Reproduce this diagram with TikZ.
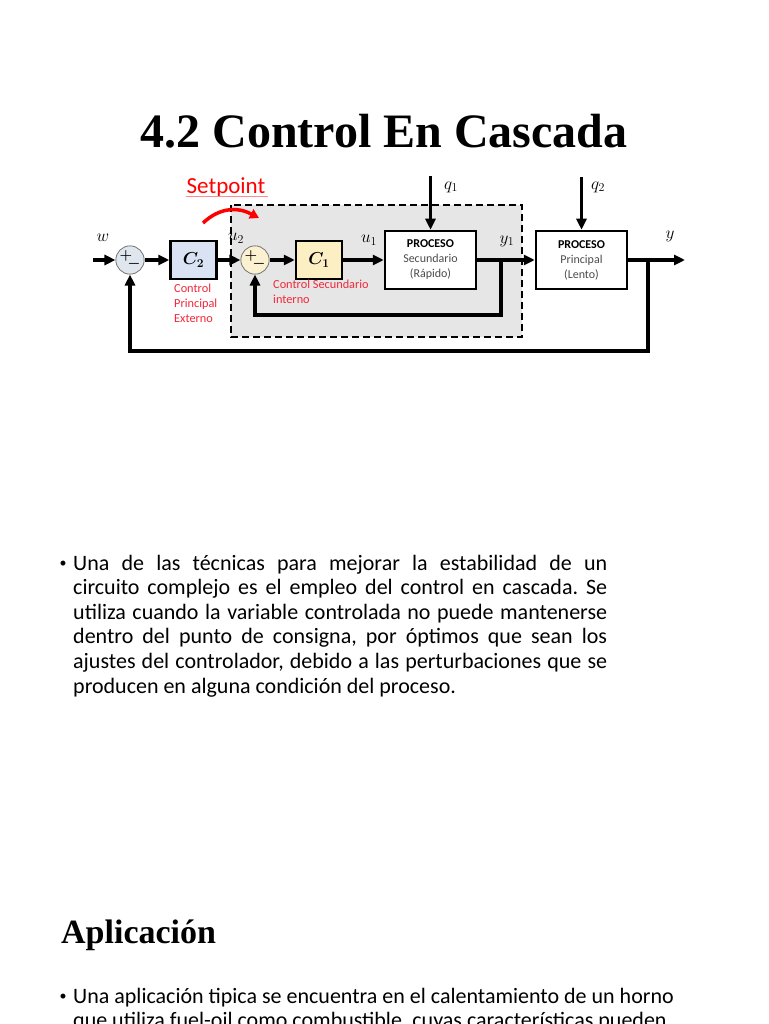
\documentclass[tikz,border=0pt]{standalone}
\usepackage{fontspec}
\setmainfont{Liberation Serif}
\newfontfamily\calibri{Carlito}
\usepackage{xcolor}
\usepackage{tikz}
\usetikzlibrary{shapes,arrows.meta}
\frenchspacing

\definecolor{loopgray}{HTML}{E6E6E6}
\definecolor{cblue}{HTML}{DAE3F3}
\definecolor{sblue}{HTML}{DFE6EE}
\definecolor{cyellow}{HTML}{FCEFC4}
\definecolor{syellow}{HTML}{FBF0CF}
\definecolor{notered}{HTML}{F2283A}

\newcommand{\plusminus}{$+$\kern-4.5pt\raisebox{-8pt}{$-$}}

\begin{document}
\begin{tikzpicture}[
    x=1pt, y=-1pt,
    conn/.style={line width=3.5pt, -{Triangle[length=11pt,width=10pt]}},
    block/.style={rectangle, draw, line width=2.5pt, minimum width=46pt, minimum height=38pt, inner sep=0pt, font=\fontsize{17}{17}\selectfont\boldmath},
    proc/.style={rectangle, draw, line width=2.5pt, fill=white, minimum width=91pt, minimum height=58pt, inner sep=0pt, align=center, text=black!70, font=\calibri\fontsize{12}{15}\selectfont},
    sumpt/.style={circle, draw=black!55, line width=0.8pt, minimum size=24pt, inner sep=0pt, font=\fontsize{15}{15}\selectfont\boldmath},
    lbl/.style={inner sep=0pt, font=\fontsize{17}{17}\selectfont},
    note/.style={anchor=north west, inner sep=0pt, text=notered, align=left, font=\calibri\fontsize{12.3}{15}\selectfont},
    body/.style={anchor=base west, inner sep=0pt, font=\calibri\fontsize{22}{24.6}\selectfont}
]
\useasboundingbox[fill=white] (0,0) rectangle (768,1024);

% Titulo
\node[anchor=base, inner sep=0pt, font=\bfseries\fontsize{48}{48}\selectfont] (title) at (384,148) {4.2 Control En Cascada};

% Lazo secundario (fondo)
\draw[fill=loopgray, line width=2pt, dash pattern=on 7pt off 4pt] (231,205) rectangle (522,337);

% Setpoint
\node[inner sep=0pt, text=red, font=\calibri\fontsize{23}{23}\selectfont] (setp) at (226,187) {Setpoint};
\draw[red!45, line width=0.6pt] (setp.south west) ++(0,-1) -- ++(82,0);
\coordinate (spA) at (203,223);
\coordinate (spB) at (259,218);
\draw[red, line width=3.5pt, -{Triangle[length=9pt,width=10pt]}] (spA) .. controls (220,207) and (238,207) .. (spB);

% Bloques
\node[sumpt, fill=sblue] (s1) at (130,260) {\plusminus};
\node[block, fill=cblue] (c2) at (193.5,260) {$C_2$};
\node[sumpt, fill=syellow] (s2) at (255,260) {\plusminus};
\node[block, fill=cyellow] (c1) at (319,260) {$C_1$};
\node[proc] (p1) at (430.5,260) {\textcolor{black}{\textbf{PROCESO}}\\Secundario\\(Rápido)};
\node[proc] (p2) at (581.5,260) {\textcolor{black}{\textbf{PROCESO}}\\Principal\\(Lento)};

% Senales
\node[lbl] (wl) at (103,238) {$w$};
\node[lbl] (u2l) at (236,238) {$u_2$};
\node[lbl] (u1l) at (369,240) {$u_1$};
\node[lbl] (y1l) at (507,241) {$y_1$};
\node[lbl] (yl) at (670,236) {$y$};
\node[lbl] (q1l) at (451,187) {$q_1$};
\node[lbl] (q2l) at (598,187) {$q_2$};

\node[note] (n1) at (174,284) {Control\\Principal\\Externo};
\node[note] (n2) at (273,280) {Control Secundario\\interno};

% Conexiones
\coordinate (win) at (93,260);
\coordinate (yout) at (685,260);
\coordinate (q1in) at (430.5,176);
\coordinate (q2in) at (581.5,177);
\coordinate (b1) at (501,260);
\coordinate (f1) at (501,315);
\coordinate (b2) at (648,260);
\coordinate (f2) at (648,351);

\draw[conn] (win) -- (s1);
\draw[conn] (s1) -- (c2);
\draw[conn] (c2) -- (s2);
\draw[conn] (s2) -- (c1);
\draw[conn] (c1) -- (p1);
\draw[conn] (p1) -- (p2);
\draw[conn] (p2) -- (yout);
\draw[conn] (q1in) -- (p1);
\draw[conn] (q2in) -- (p2);
\draw[conn] (b1) -- (f1) -| (s2);
\draw[conn] (b2) -- (f2) -| (s1);

% Texto
\node[anchor=base, inner sep=0pt, font=\calibri\fontsize{14}{14}\selectfont] (bul1) at (63,567) {•};
\node[body] (l1) at (73,570) {\makebox[534pt][s]{Una de las técnicas para mejorar la estabilidad de un}};
\node[body] (l2) at (73,594.6) {\makebox[534pt][s]{circuito complejo es el empleo del control en cascada. Se}};
\node[body] (l3) at (73,619.2) {\makebox[534pt][s]{utiliza cuando la variable controlada no puede mantenerse}};
\node[body] (l4) at (73,643.8) {\makebox[534pt][s]{dentro del punto de consigna, por óptimos que sean los}};
\node[body] (l5) at (73,668.4) {\makebox[534pt][s]{ajustes del controlador, debido a las perturbaciones que se}};
\node[body] (l6) at (73,693) {producen en alguna condición del proceso.};

\node[anchor=base west, inner sep=0pt, font=\bfseries\fontsize{34}{34}\selectfont] (apl) at (61,943) {Aplicación};

\node[anchor=base, inner sep=0pt, font=\calibri\fontsize{14}{14}\selectfont] (bul2) at (63,1000) {•};
\node[body] (m1) at (73,1003) {Una aplicación tipica se encuentra en el calentamiento de un horno};
\node[body] (m2) at (73,1027.6) {que utiliza fuel-oil como combustible, cuyas características pueden};

\end{tikzpicture}
\end{document}
